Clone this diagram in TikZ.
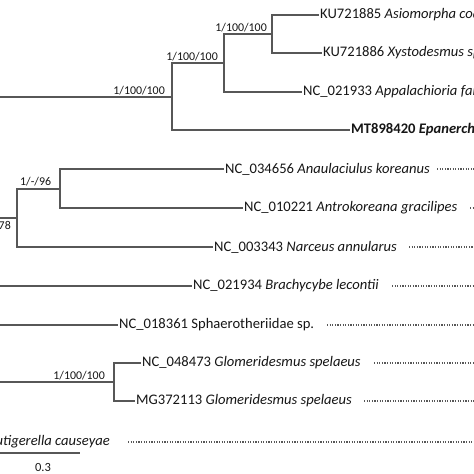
\documentclass[tikz,border=0pt]{standalone}
\usepackage{fontspec}
\setmainfont{Carlito}[ItalicFont=Carlito Italic, BoldFont=Carlito Bold, BoldItalicFont=Carlito Bold Italic]
\definecolor{linegray}{HTML}{575757}
\definecolor{txt}{HTML}{161616}
\begin{document}
\begin{tikzpicture}[x=1pt,y=-1pt,
  br/.style={draw=linegray, line width=1.4pt},
  tax/.style={anchor=west, inner sep=1pt, font=\fontsize{14.6}{17}\selectfont, text=txt},
  sup/.style={font=\fontsize{11.9}{13}\selectfont, text=txt, inner sep=0pt},
  dots/.style={draw=linegray, line width=1.1pt, dash pattern=on 1.1pt off 1.5pt}]
\useasboundingbox (0,0) rectangle (474,474);
\clip (0,0) rectangle (474,474);
% inner nodes
\coordinate (A) at (172,97);
\coordinate (B) at (224,63);
\coordinate (C) at (272,34);
\coordinate (D) at (17,218);
\coordinate (E) at (60,189);
\coordinate (F) at (114,382);
\coordinate (rA) at (-5,97);
\coordinate (rD) at (-5,218);
\coordinate (r8) at (-5,286);
\coordinate (r9) at (-5,325);
\coordinate (rF) at (-5,382);
\coordinate (edge) at (480,0);
% taxa
\node[tax] (t1) at (319,15) {KU721885 \textit{Asiomorpha coarctata}};
\node[tax] (t2) at (322,53) {KU721886 \textit{Xystodesmus sp.}};
\node[tax] (t3) at (302,92) {NC\_021933 \textit{Appalachioria falcifera}};
\node[tax] (t4) at (350,130) {\textbf{MT898420 \textit{Epanerchodus koreanus}}};
\node[tax] (t5) at (224,169) {NC\_034656 \textit{Anaulaciulus koreanus}};
\node[tax] (t6) at (243,208) {NC\_010221 \textit{Antrokoreana gracilipes}};
\node[tax] (t7) at (213,247) {NC\_003343 \textit{Narceus annularus}};
\node[tax] (t8) at (192,286) {NC\_021934 \textit{Brachycybe lecontii}};
\node[tax] (t9) at (118,325) {NC\_018361 Sphaerotheriidae sp.};
\node[tax] (t10) at (141,363) {NC\_048473 \textit{Glomeridesmus spelaeus}};
\node[tax] (t11) at (135,401) {MG372113 \textit{Glomeridesmus spelaeus}};
\node[tax, anchor=east] (t12) at (111,442) {\textit{Scutigerella causeyae}};
% branches
\draw[br] (rA) -- (A);
\draw[br] (A) |- (B);
\draw[br] (B) |- (C);
\draw[br] (C) |- (t1.west);
\draw[br] (C) |- (t2.west);
\draw[br] (B) |- (t3.west);
\draw[br] (A) |- (t4.west);
\draw[br] (rD) -- (D);
\draw[br] (D) |- (E);
\draw[br] (E) |- (t5.west);
\draw[br] (E) |- (t6.west);
\draw[br] (D) |- (t7.west);
\draw[br] (r8) -- (t8.west);
\draw[br] (r9) -- (t9.west);
\draw[br] (rF) -- (F);
\draw[br] (F) |- (t10.west);
\draw[br] (F) |- (t11.west);
% dotted leaders
\coordinate (d5) at (437,169);
\coordinate (d6) at (470,208);
\coordinate (d7) at (409,247);
\coordinate (d8) at (392,286);
\coordinate (d9) at (327,325);
\coordinate (d10) at (374,363);
\coordinate (d11) at (364,401);
\coordinate (d12) at (128,442);
\foreach \d in {d5,d6,d7,d8,d9,d10,d11,d12} \draw[dots] (\d) -- (\d -| edge);
% support values
\node[sup, anchor=base east] (s1) at (165,94) {1/100/100};
\node[sup, anchor=base east] (s2) at (218,60) {1/100/100};
\node[sup, anchor=base east] (s3) at (267,31) {1/100/100};
\node[sup, anchor=base west] (s4) at (20,185) {1/-/96};
\node[sup, anchor=base east] (s5) at (11,229) {78};
\node[sup, anchor=base east] (s6) at (105,379) {1/100/100};
% scale bar
\coordinate (sb1) at (0,453);
\coordinate (sb2) at (80,453);
\draw[br] (sb1) -- (sb2);
\node[sup, font=\fontsize{12.5}{14}\selectfont] (sbl) at (43,467) {0.3};
\end{tikzpicture}
\end{document}
